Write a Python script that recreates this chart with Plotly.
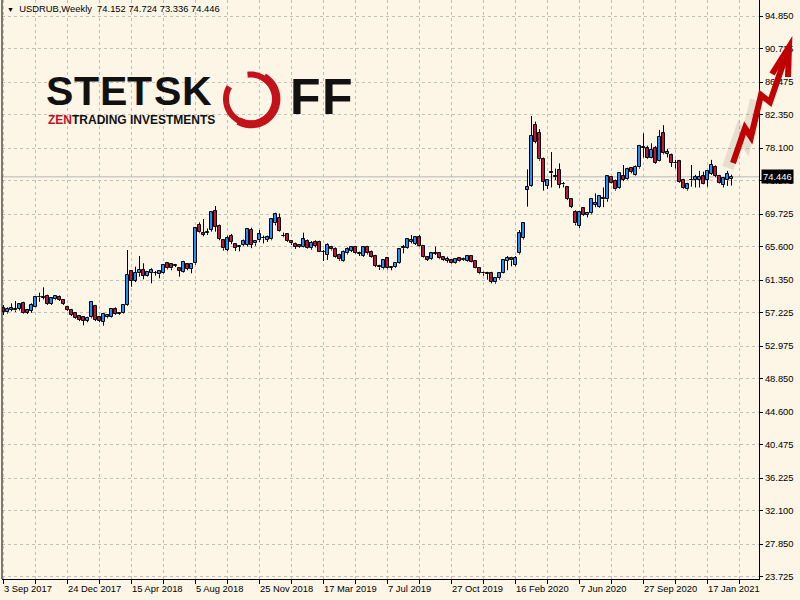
import datetime as dt
import numpy as np
import pandas as pd
import plotly.graph_objects as go

# ---------------- data ----------------
symbol = "USDRUB"
timeframe = "Weekly"
first_week = "2017-09-03"

opens = [57.77, 57.26, 57.60, 57.50, 57.68, 58.48, 57.56, 57.47, 57.98, 59.17,
         59.20, 59.33, 58.32, 58.91, 59.25, 58.83, 57.98, 57.56, 57.21, 56.80,
         56.71, 56.16, 56.63, 58.06, 56.63, 56.03, 56.63, 56.71, 57.64, 57.05,
         57.21, 58.19, 62.54, 61.27, 62.21, 62.63, 61.91, 62.30, 62.25, 62.08,
         62.21, 63.48, 63.40, 63.20, 62.85, 62.42, 63.35, 62.75, 63.48, 68.40,
         67.30, 67.30, 67.70, 70.10, 68.20, 66.40, 65.16, 66.94, 65.88, 65.60,
         65.80, 65.80, 67.70, 66.00, 66.40, 66.70, 66.44, 66.52, 68.55, 69.20,
         67.00, 67.20, 66.31, 65.93, 65.80, 65.59, 66.35, 65.40, 66.20, 66.23,
         64.90, 64.54, 65.51, 65.25, 64.54, 63.82, 64.75, 65.08, 65.59, 64.83,
         64.45, 65.59, 64.96, 64.45, 63.14, 62.84, 64.11, 62.97, 63.06, 63.48,
         65.59, 65.38, 66.23, 65.93, 66.78, 65.68, 64.32, 63.99, 64.66, 64.75,
         64.32, 63.82, 63.90, 63.48, 64.11, 63.90, 63.82, 64.41, 63.82, 62.93,
         62.21, 62.30, 62.30, 61.07, 61.58, 62.30, 63.82, 64.20, 63.30, 64.75,
         66.65, 72.78, 73.33, 81.00, 79.97, 76.67, 73.30, 74.90, 74.40, 75.30,
         73.50, 73.10, 71.60, 70.03, 68.20, 70.45, 69.60, 69.82, 70.90, 70.60,
         71.60, 71.60, 74.40, 73.96, 73.00, 74.55, 74.20, 75.57, 74.70, 75.65,
         78.10, 78.06, 76.90, 78.06, 76.50, 79.97, 77.40, 77.20, 76.20, 76.40,
         74.10, 72.86, 74.00, 74.05, 74.05, 74.50, 74.05, 74.80, 75.74, 74.55,
         73.40, 74.00, 74.152]
highs = [58.19, 57.90, 58.40, 58.70, 58.40, 58.60, 57.70, 58.40, 59.30, 59.75,
         60.43, 59.50, 59.20, 59.45, 59.40, 58.90, 58.10, 57.70, 57.30, 56.90,
         56.80, 56.70, 58.70, 58.20, 56.80, 57.20, 57.00, 57.80, 57.90, 57.30,
         58.30, 65.17, 62.60, 63.05, 64.41, 63.48, 62.50, 62.85, 62.50, 62.60,
         63.40, 63.60, 63.50, 63.40, 62.90, 63.80, 63.50, 63.50, 68.10, 68.67,
         69.10, 67.90, 70.10, 70.75, 68.40, 66.50, 67.00, 67.20, 66.00, 65.80,
         66.50, 67.90, 68.00, 66.40, 67.70, 67.00, 67.00, 69.20, 69.90, 69.80,
         67.37, 67.25, 66.40, 66.10, 65.90, 67.37, 66.50, 66.30, 66.40, 66.35,
         65.17, 66.02, 65.70, 65.50, 64.70, 65.10, 65.50, 65.60, 65.70, 64.96,
         65.60, 65.70, 65.10, 64.55, 63.30, 64.00, 64.20, 63.10, 63.65, 65.30,
         65.80, 66.60, 67.07, 66.90, 67.07, 65.80, 64.40, 64.85, 65.59, 64.90,
         64.40, 64.32, 64.00, 64.10, 64.20, 64.20, 64.50, 64.50, 63.90, 63.00,
         62.42, 62.40, 62.40, 61.60, 62.30, 64.00, 64.40, 64.30, 64.40, 67.70,
         68.70, 75.40, 82.17, 81.45, 80.50, 76.90, 74.10, 77.60, 75.50, 76.15,
         73.80, 73.20, 71.70, 70.20, 70.10, 70.60, 70.00, 71.60, 72.35, 72.10,
         73.10, 74.60, 74.50, 74.10, 75.00, 75.95, 75.60, 75.70, 75.90, 78.50,
         79.97, 78.40, 78.70, 78.35, 80.40, 81.00, 78.00, 77.40, 76.60, 76.60,
         74.20, 73.70, 75.95, 74.70, 75.20, 75.10, 75.30, 76.60, 75.90, 74.70,
         74.40, 75.20, 74.724]
lows = [56.92, 57.10, 57.40, 57.30, 57.50, 57.10, 57.05, 57.20, 57.90, 58.60,
        58.90, 58.20, 58.20, 58.80, 58.70, 58.20, 57.45, 56.80, 56.45, 56.15,
        55.60, 56.00, 56.50, 56.15, 56.00, 55.57, 56.50, 56.60, 56.95, 56.95,
        57.10, 58.10, 60.51, 61.10, 61.78, 61.45, 61.80, 60.94, 61.90, 61.58,
        62.10, 62.70, 62.60, 63.00, 61.78, 62.30, 62.60, 62.21, 63.30, 67.30,
        66.90, 67.07, 67.50, 67.50, 66.40, 65.10, 65.00, 65.90, 65.05, 65.00,
        65.70, 65.60, 65.40, 65.70, 66.20, 66.00, 66.20, 66.40, 68.30, 67.50,
        66.78, 66.20, 65.80, 65.30, 65.45, 65.50, 65.30, 65.20, 65.50, 64.90,
        63.77, 63.90, 65.10, 64.20, 63.80, 63.70, 64.60, 64.90, 64.70, 64.41,
        64.30, 64.60, 64.20, 63.00, 62.63, 62.70, 62.70, 62.60, 62.90, 63.40,
        64.75, 65.30, 66.00, 65.80, 65.60, 64.20, 63.77, 63.90, 64.55, 64.00,
        63.80, 63.56, 63.40, 63.40, 63.70, 63.80, 63.70, 63.60, 62.80, 62.10,
        61.90, 61.40, 60.94, 60.90, 61.40, 62.20, 62.60, 63.10, 63.10, 64.60,
        66.50, 70.66, 73.20, 78.70, 76.50, 72.70, 72.90, 73.10, 74.05, 73.00,
        73.10, 71.50, 70.50, 68.30, 67.95, 69.50, 69.30, 69.70, 70.60, 70.50,
        70.60, 71.30, 73.60, 72.70, 72.90, 73.90, 74.10, 74.90, 74.60, 75.50,
        76.90, 76.70, 76.80, 76.10, 76.40, 77.30, 76.90, 75.70, 75.50, 73.70,
        72.90, 72.70, 73.20, 73.10, 73.10, 73.50, 73.20, 74.70, 74.40, 73.60,
        73.10, 73.30, 73.336]
closes = [57.34, 57.68, 57.75, 57.65, 58.28, 57.21, 57.21, 58.19, 59.17, 59.25,
          59.10, 58.32, 59.04, 59.33, 58.83, 58.32, 57.56, 56.92, 56.58, 56.29,
          56.16, 56.58, 58.61, 56.29, 56.20, 57.05, 56.88, 57.68, 57.05, 57.20,
          58.19, 62.00, 61.27, 62.29, 62.63, 61.91, 62.42, 62.60, 62.30, 62.50,
          63.27, 62.85, 62.85, 63.27, 62.54, 63.69, 62.75, 63.40, 67.90, 67.40,
          67.10, 67.50, 69.94, 68.10, 66.60, 65.38, 66.64, 66.22, 65.46, 65.70,
          66.30, 67.80, 65.80, 66.30, 67.15, 66.65, 66.86, 69.06, 69.70, 67.60,
          66.90, 66.35, 66.02, 65.59, 65.60, 66.52, 65.38, 66.10, 65.68, 64.96,
          64.96, 65.80, 65.25, 64.32, 63.99, 64.96, 65.25, 65.51, 64.83, 64.66,
          65.51, 64.75, 64.32, 63.14, 62.97, 63.90, 62.84, 62.88, 63.56, 65.25,
          65.40, 66.52, 66.40, 66.78, 65.68, 64.32, 63.90, 64.75, 64.83, 64.11,
          63.90, 63.99, 63.48, 63.99, 63.82, 64.05, 64.41, 63.69, 62.84, 62.21,
          62.30, 62.10, 61.15, 61.58, 62.30, 63.90, 64.20, 63.85, 64.10, 67.30,
          68.55, 73.15, 79.63, 78.90, 76.67, 73.80, 74.05, 75.05, 74.50, 73.40,
          73.60, 71.70, 70.66, 68.55, 70.03, 69.60, 69.90, 71.60, 71.10, 72.00,
          71.80, 74.50, 73.70, 72.86, 74.97, 74.05, 75.40, 75.10, 75.74, 78.36,
          78.20, 76.80, 77.90, 76.25, 79.50, 77.43, 77.60, 76.25, 76.15, 73.80,
          73.00, 73.50, 74.10, 74.45, 74.40, 73.60, 75.20, 75.95, 74.55, 73.70,
          74.26, 74.80, 74.446]

price_ticks = [94.850, 90.725, 86.475, 82.350, 78.100, 73.975, 69.725, 65.600,
               61.350, 57.225, 52.975, 48.850, 44.600, 40.475, 36.225, 32.100,
               27.850, 23.725]
date_tick_labels = ["3 Sep 2017", "24 Dec 2017", "15 Apr 2018", "5 Aug 2018",
                    "25 Nov 2018", "17 Mar 2019", "7 Jul 2019", "27 Oct 2019",
                    "16 Feb 2020", "7 Jun 2020", "27 Sep 2020", "17 Jan 2021"]

# ---------------- styling / geometry ----------------
W, H = 800, 600
ML, MR, MT, MB = 2, 41, 0, 21
PX0, PX1, PY0, PY1 = ML, W - MR, MT, H - MB
BG = "#FDF5E6"
GRID = "#C4C0B8"
BLUE = "#1E90FF"
RED = "#C0143C"
LOGO_RED = "#C4121A"
FONT = "Liberation Sans, Arial, sans-serif"
FS = 9.4

dates = pd.date_range(first_week, periods=len(opens), freq="7D")
week = pd.Timedelta(days=7)
label_dates = [pd.Timestamp(dt.datetime.strptime(s, "%d %b %Y")) for s in date_tick_labels]
grid_dates = pd.date_range(label_dates[0], label_dates[-1] + 8 * week, freq="56D")

FIRST_BAR_PX, BAR_PX = 3.5, 4.0
x_lo = dates[0] + week * ((PX0 - FIRST_BAR_PX) / BAR_PX)
x_hi = dates[0] + week * ((PX1 - FIRST_BAR_PX) / BAR_PX)

TOP_TICK_PX, BOT_TICK_PX = 16.0, 576.7
ppu = (BOT_TICK_PX - TOP_TICK_PX) / (price_ticks[0] - price_ticks[-1])
y_hi = price_ticks[0] + (TOP_TICK_PX - PY0) / ppu
y_lo = price_ticks[-1] - (PY1 - BOT_TICK_PX) / ppu


def px(x, y):
    """pixel -> paper coordinates"""
    return (x - PX0) / (PX1 - PX0), (PY1 - y) / (PY1 - PY0)


def pth(points, dx=0, dy=0):
    pp = [px(a + dx, b + dy) for a, b in points]
    return "M " + " L ".join(f"{a:.5f},{b:.5f}" for a, b in pp)


# ---------------- candles: bodies as bars, wicks as lines ----------------
o = np.array(opens)
h = np.array(highs)
l = np.array(lows)
c = np.array(closes)
body_lo = np.minimum(o, c)
body_hi = np.maximum(o, c)
body_col = [BLUE if cc > oo else RED for oo, cc in zip(o, c)]

wx, wy = [], []
for d, lo_, blo, bhi, hi_ in zip(dates, l, body_lo, body_hi, h):
    wx += [d, d, None, d, d, None]
    wy += [lo_, blo, None, bhi, hi_, None]

fig = go.Figure()
fig.add_trace(go.Bar(
    x=dates, y=body_hi - body_lo, base=body_lo,
    width=0.75 * week.total_seconds() * 1000,
    marker=dict(color=body_col, line=dict(color="black", width=1)),
    hoverinfo="skip", showlegend=False,
))
fig.add_trace(go.Scatter(
    x=wx, y=wy, mode="lines", line=dict(color="black", width=1),
    hoverinfo="skip", showlegend=False, connectgaps=False,
))

shapes = []
annotations = []

# current price line
shapes.append(dict(type="line", xref="paper", yref="y", x0=0, x1=1,
                   y0=closes[-1], y1=closes[-1],
                   line=dict(color="#B8B8B8", width=1), layer="below"))
# left border
shapes.append(dict(type="line", xref="paper", yref="paper", x0=0, x1=0, y0=0, y1=1,
                   line=dict(color="black", width=1)))

annotations.append(dict(
    xref="paper", yref="y", x=1, y=closes[-1], xanchor="left", yanchor="middle",
    xshift=2, text=f"{closes[-1]:.3f}", showarrow=False, bgcolor="black",
    borderpad=1, font=dict(family=FONT, size=FS, color="white")))

# header
hdr = (f"<span style='font-size:7px'>▼</span>\u00a0 {symbol},{timeframe}\u00a0\u00a0"
       f"{opens[-1]:.3f} {highs[-1]:.3f} {lows[-1]:.3f} {closes[-1]:.3f}")
annotations.append(dict(xref="paper", yref="paper", x=0, y=1, xanchor="left",
                        yanchor="top", xshift=3, yshift=-1, text=hdr, showarrow=False,
                        font=dict(family=FONT, size=FS, color="black")))

# date labels (left-aligned at their tick like MT4)
for d, s in zip(label_dates, date_tick_labels):
    annotations.append(dict(xref="x", yref="paper", x=d, y=0, xanchor="left",
                            yanchor="top", xshift=-2, yshift=-2, text=s,
                            showarrow=False,
                            font=dict(family=FONT, size=FS, color="black")))

# ---------------- logo ----------------
letters = [("S", 59.3), ("T", 86.3), ("E", 113.3), ("T", 139.0), ("S", 167.5), ("K", 197.0)]
for ch, cx in letters:
    x, y = px(cx, 90.5)
    annotations.append(dict(xref="paper", yref="paper", x=x, y=y, xanchor="center",
                            yanchor="middle", text=f"<b>{ch}</b>", showarrow=False,
                            borderpad=0,
                            font=dict(family=FONT, size=41, color="#111111")))
for cx in (305.5, 337.0):
    x, y = px(cx, 97)
    annotations.append(dict(xref="paper", yref="paper", x=x, y=y, xanchor="center",
                            yanchor="middle", text="<b>F</b>", showarrow=False,
                            borderpad=0,
                            font=dict(family=FONT, size=50, color="#111111")))
x, y = px(47, 120)
annotations.append(dict(xref="paper", yref="paper", x=x, y=y, xanchor="left",
                        yanchor="middle", borderpad=0,
                        text=f"<b><span style='color:{LOGO_RED}'>ZEN</span>TRADING INVESTMENTS</b>",
                        showarrow=False, font=dict(family=FONT, size=12, color="#111111")))

# enso circle (thicker on the right side)
ecx, ecy, r = 250.5, 99.0, 24.5
ang = np.radians(np.linspace(97, -210, 80))
circle_pts = [(ecx + r * np.cos(a), ecy - r * np.sin(a)) for a in ang]
shapes.append(dict(type="path", xref="paper", yref="paper", path=pth(circle_pts),
                   line=dict(color=LOGO_RED, width=6)))
ang2 = np.radians(np.linspace(60, -120, 50))
inner_pts = [(ecx + 0.6 + (r + 0.8) * np.cos(a), ecy - (r + 0.8) * np.sin(a)) for a in ang2]
shapes.append(dict(type="path", xref="paper", yref="paper", path=pth(inner_pts),
                   line=dict(color=LOGO_RED, width=8)))

# red arrow with soft shadow
arrow_main = [(733, 163), (745, 128), (751, 137), (761, 95), (770, 102), (789, 47)]
arrow_head = [(772, 74), (789, 47), (788, 77)]
shapes.append(dict(type="path", xref="paper", yref="paper", path=pth(arrow_main[:4], -5, 5),
                   line=dict(color="rgba(60,60,60,0.12)", width=12)))
shapes.append(dict(type="path", xref="paper", yref="paper", path=pth(arrow_main),
                   line=dict(color="#C00000", width=6)))
shapes.append(dict(type="path", xref="paper", yref="paper", path=pth(arrow_head),
                   line=dict(color="#C00000", width=6)))

fig.update_layout(
    width=W, height=H, margin=dict(l=ML, r=MR, t=MT, b=MB, pad=0),
    paper_bgcolor=BG, plot_bgcolor=BG, bargap=0, bargroupgap=0, barmode="overlay",
    hovermode=False, showlegend=False, shapes=shapes, annotations=annotations,
    xaxis=dict(type="date", range=[x_lo, x_hi], tickvals=grid_dates,
               showticklabels=False, ticks="outside", ticklen=4, tickcolor="black",
               showgrid=True, gridcolor=GRID, griddash="3px,3px", gridwidth=1,
               showline=True, linecolor="black", linewidth=1, zeroline=False,
               fixedrange=True),
    yaxis=dict(side="right", range=[y_lo, y_hi], tickvals=price_ticks,
               ticktext=[f"{v:.3f}" for v in price_ticks], ticks="outside",
               ticklen=3, tickcolor="black", showgrid=True, gridcolor=GRID,
               griddash="3px,3px", gridwidth=1, showline=True, linecolor="black",
               linewidth=1, zeroline=False,
               tickfont=dict(family=FONT, size=FS, color="black"), fixedrange=True),
)

fig.write_html("out.html", config={"displayModeBar": False},
               post_script="document.body.style.margin='0px';"
                           "document.body.style.background='" + BG + "';")
